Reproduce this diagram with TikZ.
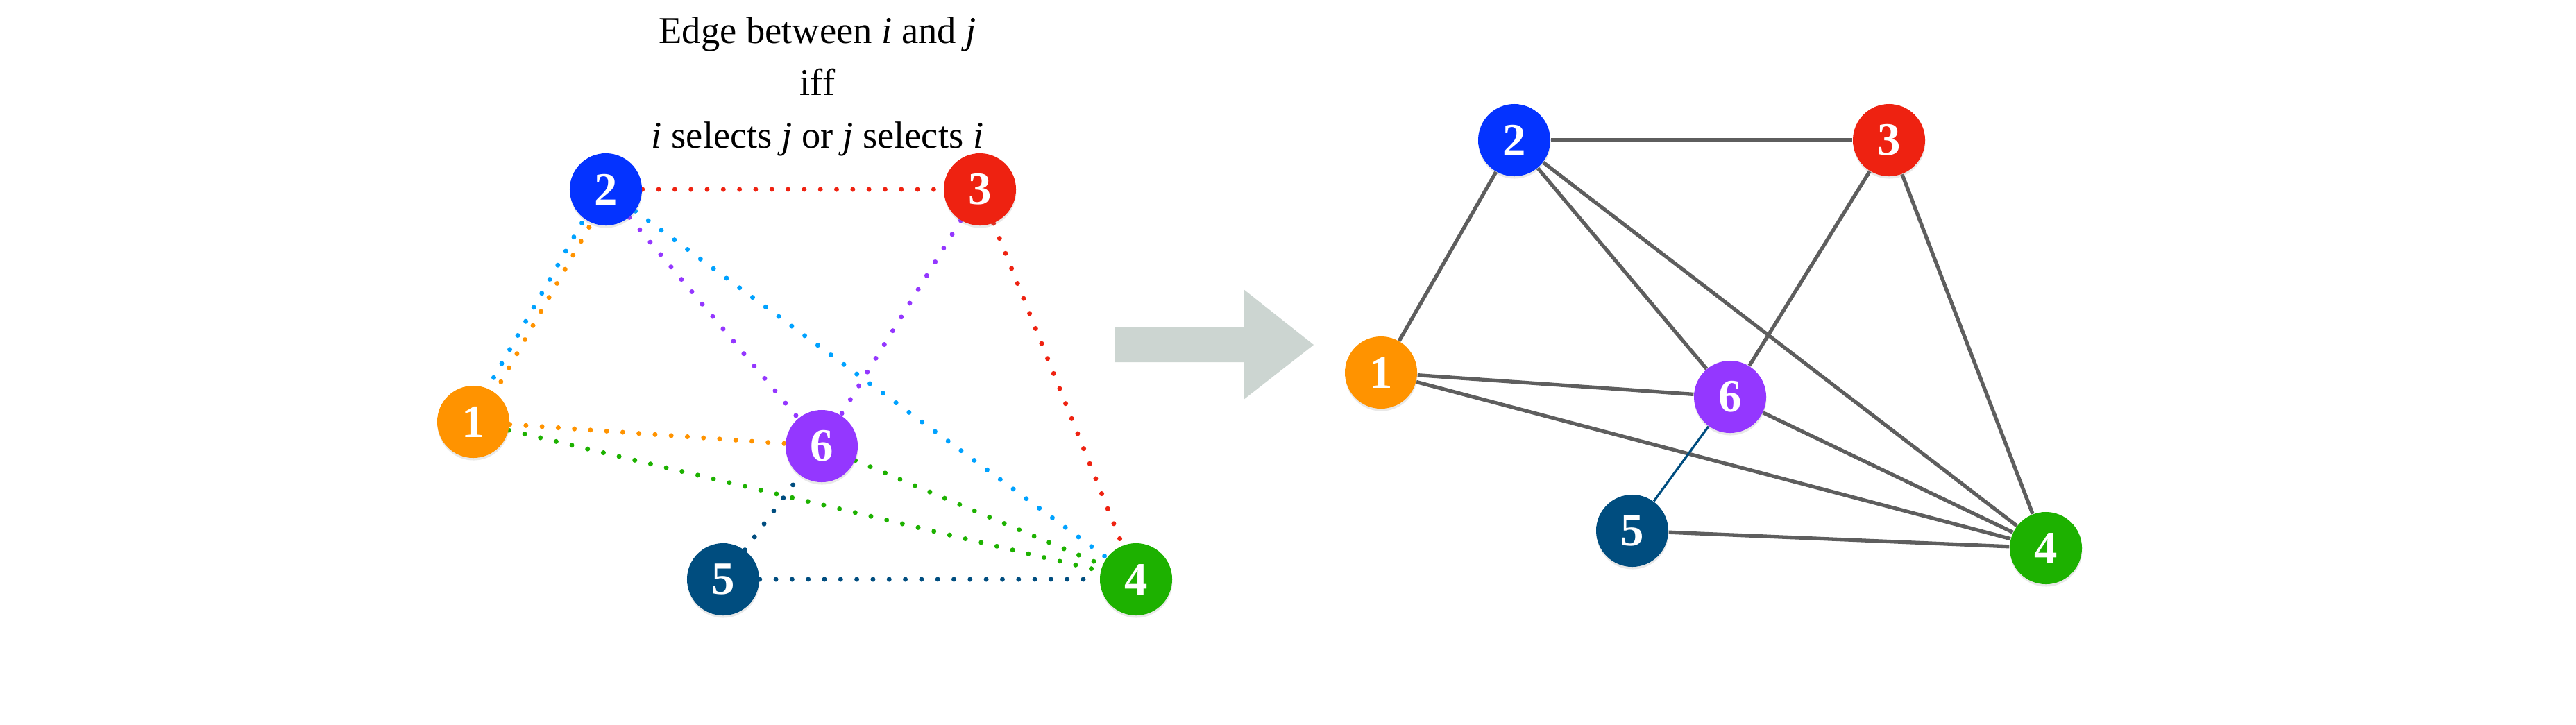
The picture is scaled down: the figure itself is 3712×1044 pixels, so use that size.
\documentclass[tikz,border=0pt]{standalone}
\usepackage{fontspec}
\setmainfont{Liberation Serif}
\usetikzlibrary{shadows,backgrounds}
\definecolor{cOrange}{HTML}{FF9300}
\definecolor{cBlue}{HTML}{0433FF}
\definecolor{cRed}{HTML}{EE2211}
\definecolor{cGreen}{HTML}{1DB100}
\definecolor{cDark}{HTML}{004D7F}
\definecolor{cPurple}{HTML}{9437FF}
\definecolor{cLight}{HTML}{00A2FF}
\definecolor{cGray}{HTML}{5E5E5E}
\definecolor{cArrow}{HTML}{CCD5D1}
\begin{document}
\begin{tikzpicture}[x=0.01cm,y=-0.01cm,
  vtx/.style={circle, minimum size=1.04cm, inner sep=0pt, text=white,
    font=\fontsize{19}{19}\selectfont\bfseries,
    drop shadow={opacity=0.18, shadow xshift=0.004cm, shadow yshift=-0.035cm}},
  dots/.style={line width=0.07cm, line cap=round, dash pattern=on 0pt off 0.233cm},
  plain/.style={line width=0.053cm, draw=cGray},
  caption/.style={anchor=base, font=\fontsize{15.5}{19}\selectfont}
]
\useasboundingbox (0,0) rectangle (3712,1044);

% caption
\node[caption] (t1) at (1178,62) {Edge between \textit{i} and \textit{j}};
\node[caption] (t2) at (1178,137.5) {iff};
\node[caption] (t3) at (1178,213) {\textit{i} selects \textit{j} or \textit{j} selects \textit{i}};

% left graph nodes
\node[vtx, fill=cOrange] (a1) at (682,608) {1};
\node[vtx, fill=cBlue]   (a2) at (873,273) {2};
\node[vtx, fill=cRed]    (a3) at (1412,273) {3};
\node[vtx, fill=cGreen]  (a4) at (1637,835) {4};
\node[vtx, fill=cDark]   (a5) at (1042,835) {5};
\node[vtx, fill=cPurple] (a6) at (1184,643) {6};

% right graph nodes
\node[vtx, fill=cOrange] (b1) at (1990,537) {1};
\node[vtx, fill=cBlue]   (b2) at (2182,202) {2};
\node[vtx, fill=cRed]    (b3) at (2722,202) {3};
\node[vtx, fill=cGreen]  (b4) at (2948,790) {4};
\node[vtx, fill=cDark]   (b5) at (2352,765) {5};
\node[vtx, fill=cPurple] (b6) at (2493,572) {6};

% big arrow
\fill[cArrow] (1606,471) -- (1792,471) -- (1792,417) -- (1893,497)
  -- (1792,576) -- (1792,522) -- (1606,522) -- cycle;

\begin{scope}[on background layer]
  % left dotted edges
  \draw[dots, cRed] (a2) -- (a3);
  \draw[dots, cLight] ([shift={(-5.2,-3)}]a1.center) -- ([shift={(-5.2,-3)}]a2.center);
  \draw[dots, cOrange] ([shift={(5.2,3)}]a1.center) -- ([shift={(5.2,3)}]a2.center);
  \draw[dots, cPurple] (a2) -- (a6);
  \draw[dots, cLight] (a2) -- (a4);
  \draw[dots, cPurple] (a3) -- (a6);
  \draw[dots, cRed] (a3) -- (a4);
  \draw[dots, cOrange] (a1) -- (a6);
  \draw[dots, cGreen] (a1) -- (a4);
  \draw[dots, cGreen] (a6) -- (a4);
  \draw[dots, cDark] (a5) -- (a6);
  \draw[dots, cDark] (a5) -- (a4);

  % right solid edges
  \draw[plain] (b2) -- (b3);
  \draw[plain] (b2) -- (b1);
  \draw[plain] (b2) -- (b6);
  \draw[plain] (b2) -- (b4);
  \draw[plain] (b3) -- (b6);
  \draw[plain] (b3) -- (b4);
  \draw[plain] (b1) -- (b6);
  \draw[plain] (b1) -- (b4);
  \draw[plain] (b6) -- (b4);
  \draw[plain] (b5) -- (b4);
  \draw[line width=0.033cm, cDark] (b5) -- (b6);
\end{scope}
\end{tikzpicture}
\end{document}
